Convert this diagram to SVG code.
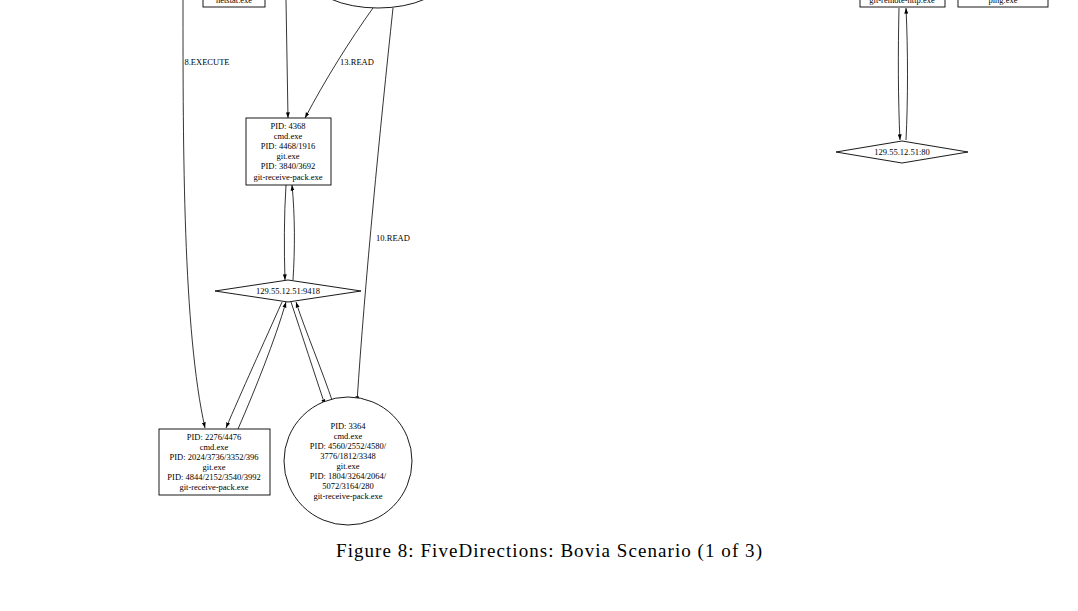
<svg xmlns="http://www.w3.org/2000/svg" width="1078" height="611" viewBox="0 0 1078 611">
<style>
text{font-family:"Liberation Serif",serif;font-size:8.5px;fill:#000;text-anchor:middle}
.n{fill:#fff;stroke:#000;stroke-width:0.9}
.e{fill:none;stroke:#000;stroke-width:0.8}
.cap{font-size:19px}
</style>
<defs><marker id="a" viewBox="0 0 10 10" refX="10" refY="5" markerWidth="7" markerHeight="7" orient="auto"><path d="M0,1.5L10,5L0,8.5z"/></marker></defs>
<rect width="1078" height="611" fill="#fff"/>
<g id="connectors">
<path class="e" d="M183,0 C183,150 183,330 205,428" marker-end="url(#a)"/>
<text x="207" y="65">8.EXECUTE</text>
<path class="e" d="M286,0 L288,118" marker-end="url(#a)"/>
<path class="e" d="M373,8 C350,40 325,80 305,118" marker-end="url(#a)"/>
<text x="357" y="65">13.READ</text>
<path class="e" d="M393,8 C380,130 365,280 357,402" marker-end="url(#a)"/>
<text x="393" y="241">10.READ</text>
<path class="e" d="M286,185 C284,215 284,250 285,280" marker-end="url(#a)"/>
<path class="e" d="M293,280 C295,250 295,215 292,185" marker-end="url(#a)"/>
<path class="e" d="M282,302 C265,340 240,395 226,428" marker-end="url(#a)"/>
<path class="e" d="M238,429 C255,390 275,340 286,302" marker-end="url(#a)"/>
<path class="e" d="M291,302 C302,335 315,375 325,405" marker-end="url(#a)"/>
<path class="e" d="M333,403 C322,370 305,330 296,302" marker-end="url(#a)"/>
<path class="e" d="M899,8 C898,50 898,100 900,140" marker-end="url(#a)"/>
<path class="e" d="M906,140 C908,100 908,50 906,8" marker-end="url(#a)"/>
</g>
<g id="netstat"><rect class="n" x="203" y="-12" width="62" height="19"/><text x="234" y="3">netstat.exe</text></g>
<g id="ellipse"><ellipse class="n" cx="378" cy="-22" rx="66" ry="30"/></g>
<g id="n4368"><rect class="n" x="246" y="118" width="85" height="67"/>
<text x="288" y="129">PID: 4368</text><text x="288" y="139">cmd.exe</text><text x="288" y="149">PID: 4468/1916</text><text x="288" y="159">git.exe</text><text x="288" y="169">PID: 3840/3692</text><text x="288" y="180">git-receive-pack.exe</text></g>
<g id="ip9418"><polygon class="n" points="215,291 288,280 361,291 288,302"/><text x="288" y="294">129.55.12.51:9418</text></g>
<g id="n2276"><rect class="n" x="159" y="429" width="111" height="66"/>
<text x="214" y="440">PID: 2276/4476</text><text x="214" y="450">cmd.exe</text><text x="214" y="460">PID: 2024/3736/3352/396</text><text x="214" y="470">git.exe</text><text x="214" y="480">PID: 4844/2152/3540/3992</text><text x="214" y="490">git-receive-pack.exe</text></g>
<g id="n3364"><circle class="n" cx="348" cy="461" r="64"/>
<text x="348" y="429">PID: 3364</text><text x="348" y="439">cmd.exe</text><text x="348" y="449">PID: 4560/2552/4580/</text><text x="348" y="459">3776/1812/3348</text><text x="348" y="469">git.exe</text><text x="348" y="479">PID: 1804/3264/2064/</text><text x="348" y="489">5072/3164/280</text><text x="348" y="499">git-receive-pack.exe</text></g>
<g id="gitremote"><rect class="n" x="860" y="-12" width="85" height="19"/><text x="902" y="3">git-remote-http.exe</text></g>
<g id="ping"><rect class="n" x="958" y="-12" width="90" height="19"/><text x="1003" y="3">ping.exe</text></g>
<g id="ip80"><polygon class="n" points="836,152 902,141 968,152 902,163"/><text x="902" y="155">129.55.12.51:80</text></g>
<text class="cap" x="549" y="557" textLength="426" lengthAdjust="spacing">Figure 8: FiveDirections: Bovia Scenario (1 of 3)</text>
</svg>
